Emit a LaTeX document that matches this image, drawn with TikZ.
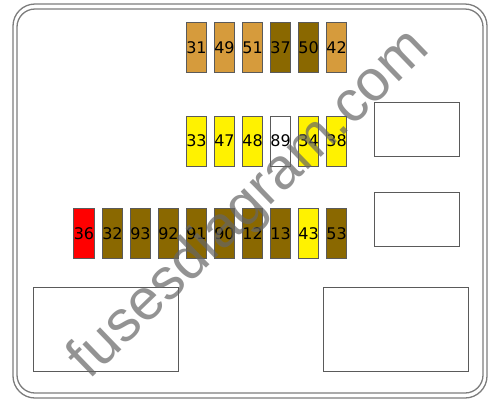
\documentclass[tikz,border=0pt]{standalone}
\usepackage{fontspec}
\setmainfont{DejaVu Sans}
\newfontfamily\wmfont{Liberation Sans}
\definecolor{tanfuse}{RGB}{214,155,60}
\definecolor{darkfuse}{RGB}{138,104,0}
\definecolor{framegray}{RGB}{125,125,125}
\definecolor{edgegray}{RGB}{90,90,90}
\begin{document}
\begin{tikzpicture}[x=1pt,y=-1pt]
\tikzset{
  fuse/.style={draw=edgegray, line width=0.9pt, minimum width=19pt, minimum height=50pt, inner sep=0pt, outer sep=0pt, font=\fontsize{16}{16}\selectfont, text=black},
  tanf/.style={fuse, fill=tanfuse},
  darkf/.style={fuse, fill=darkfuse},
  yelf/.style={fuse, fill=yellow},
  redf/.style={fuse, fill=red},
  whitef/.style={fuse, fill=white},
  relay/.style={draw=edgegray, line width=0.9pt, inner sep=0pt, outer sep=0pt, fill=white},
  framebox/.style={draw=framegray, line width=1.3pt}
}
\useasboundingbox (0,0) rectangle (500,405);
\fill[white] (0,0) rectangle (500,405);
% frame
\draw[framebox, rounded corners=22pt] (13,4) rectangle (487,398);
\draw[framebox, rounded corners=18pt] (17,9) rectangle (483,393);
% top row
\node[tanf]  (f31) at (196.5,47.5) {31};
\node[tanf]  (f49) at (224.5,47.5) {49};
\node[tanf]  (f51) at (252.5,47.5) {51};
\node[darkf] (f37) at (280.5,47.5) {37};
\node[darkf] (f50) at (308.5,47.5) {50};
\node[tanf]  (f42) at (336.5,47.5) {42};
% middle row
\node[yelf]   (f33) at (196.5,141) {33};
\node[yelf]   (f47) at (224.5,141) {47};
\node[yelf]   (f48) at (252.5,141) {48};
\node[whitef] (f89) at (280.5,141) {89};
\node[yelf]   (f34) at (308.5,141) {34};
\node[yelf]   (f38) at (336.5,141) {38};
% bottom row
\node[redf]  (f36) at (84,233.5) {36};
\node[darkf] (f32) at (112.5,233.5) {32};
\node[darkf] (f93) at (140.5,233.5) {93};
\node[darkf] (f92) at (168.5,233.5) {92};
\node[darkf] (f91) at (196.5,233.5) {91};
\node[darkf] (f90) at (224.5,233.5) {90};
\node[darkf] (f12) at (252.5,233.5) {12};
\node[darkf] (f13) at (280.5,233.5) {13};
\node[yelf]  (f43) at (308.5,233.5) {43};
\node[darkf] (f53) at (336.5,233.5) {53};
% relay boxes
\node[relay, minimum width=85pt, minimum height=54pt] (r1) at (416.5,129) {};
\node[relay, minimum width=85pt, minimum height=54pt] (r2) at (416.5,219) {};
\node[relay, minimum width=145pt, minimum height=84pt] (r3) at (105.5,329) {};
\node[relay, minimum width=145pt, minimum height=84pt] (r4) at (395.5,329) {};
% watermark
\node[text=black!60, opacity=0.7, rotate=44, font=\wmfont\fontsize{58}{58}\selectfont, inner sep=0pt] (wm) at (250,205) {fusesdiagram.com};
\end{tikzpicture}
\end{document}
